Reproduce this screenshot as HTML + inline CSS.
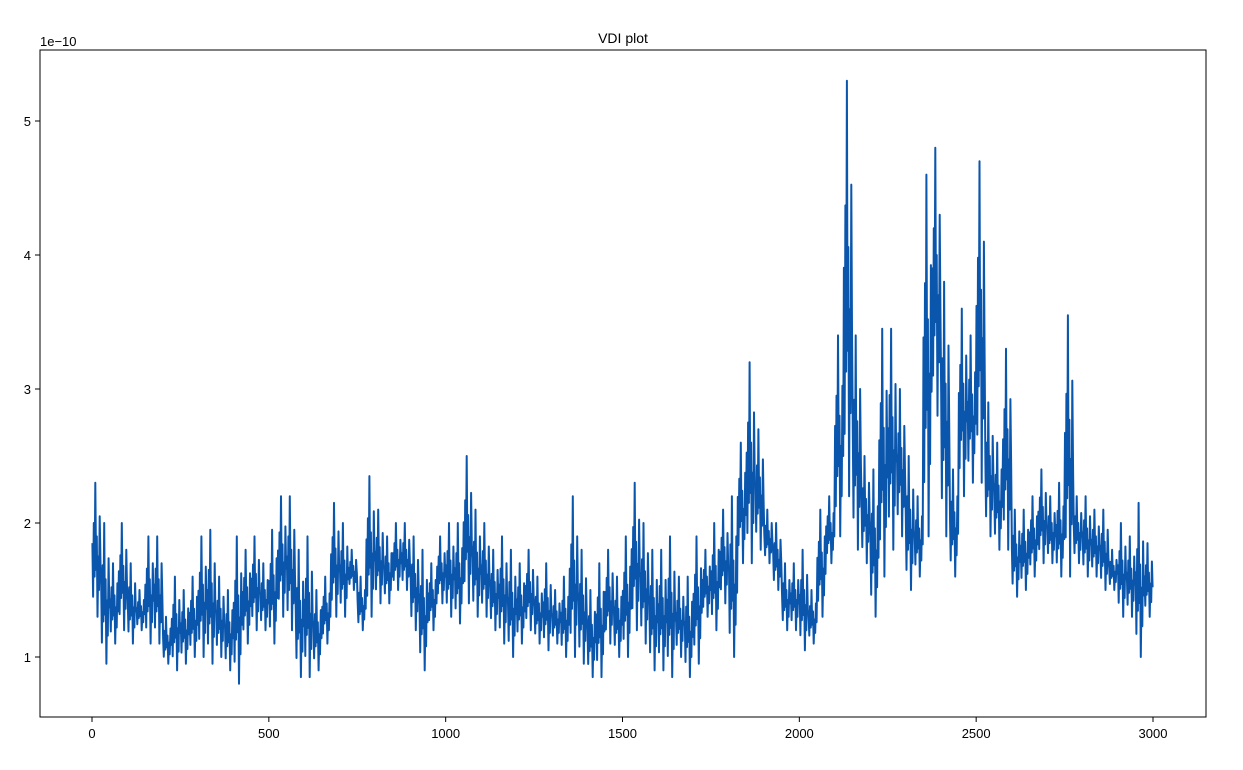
<!DOCTYPE html>
<html><head><meta charset="utf-8"><style>
body{margin:0;background:#fff;}
svg text{font-family:"Liberation Sans","DejaVu Sans",sans-serif;fill:#000;}
</style></head><body>
<svg width="1243" height="765" viewBox="0 0 1243 765" xmlns="http://www.w3.org/2000/svg">
<rect x="0" y="0" width="1243" height="765" fill="#fff"/>
<text x="623" y="43" font-size="14" text-anchor="middle">VDI plot</text>
<text x="40" y="46" font-size="13">1e−10</text>
<g id="plot"></g>
<rect x="40" y="50" width="1166" height="667" fill="none" stroke="#000" stroke-width="1"/>
<g id="xaxis"></g><g id="yaxis"></g>
</svg>
<script>
const xTicks=[0,500,1000,1500,2000,2500,3000];
const yTicks=[1,2,3,4,5];
const binSize=25;
const seriesHi=[2.3,2.0,1.7,2.0, 1.7,1.5,1.9,1.9, 1.3,1.6,1.5,1.6, 1.9,1.95,1.6,1.5, 1.9,1.8,1.9,1.7,
1.95,2.2,2.2,1.8, 1.9,1.5,1.6,2.15, 2.0,1.8,1.6,2.35, 2.1,1.9,2.0,2.0, 1.9,1.8,1.7,1.9,
2.0,2.0,2.5,2.1, 2.0,1.8,1.9,1.8, 1.7,1.8,1.6,1.7, 1.5,1.6,2.2,1.8, 1.5,1.7,1.8,1.6,
1.9,2.3,2.0,1.8, 1.8,1.9,1.6,1.6, 1.9,1.8,2.0,2.1, 2.2,2.6,3.2,2.7, 2.1,2.0,1.7,1.7,
1.8,1.5,2.1,2.2, 3.4,5.3,3.4,2.5, 2.4,3.45,3.45,3.0, 2.5,2.2,4.6,4.8, 3.8,2.4,3.6,3.4,
4.7,2.9,2.6,3.3, 2.1,2.1,2.2,2.4, 2.2,2.3,3.55,2.2, 2.2,2.1,2.1,1.8, 2.0,1.9,2.15,1.85];
const seriesLo=[1.3,0.95,1.1,1.2, 1.1,1.2,1.1,1.1, 0.95,0.9,0.95,1.0, 1.0,0.95,1.0,0.9, 0.8,1.1,1.2,1.2,
1.1,1.3,1.2,0.85, 0.85,0.9,1.1,1.3, 1.3,1.5,1.2,1.3, 1.4,1.4,1.5,1.5, 1.2,0.9,1.2,1.4,
1.3,1.25,1.4,1.3, 1.3,1.2,1.1,1.0, 1.1,1.2,1.1,1.05, 1.1,1.0,1.0,0.95, 0.85,0.85,1.1,1.0,
1.0,1.2,1.1,0.9, 0.9,0.85,1.0,0.85, 0.95,1.3,1.2,1.4, 1.0,1.7,1.7,1.8, 1.7,1.5,1.2,1.2,
1.05,1.1,1.3,1.7, 1.9,2.2,1.8,1.7, 1.3,1.6,1.8,1.9, 1.5,1.6,1.9,2.8, 1.9,1.6,2.2,2.3,
2.3,1.9,1.8,1.8, 1.45,1.5,1.6,1.7, 1.7,1.6,1.6,1.7, 1.6,1.6,1.5,1.5, 1.3,1.3,1.0,1.3];
const NS='http://www.w3.org/2000/svg';
function xs(v){return 92+v*(1153-92)/3000;}
function ys(v){return 657-(v-1)*134;}
const plot=document.getElementById('plot');
const pattern=[0.55,0.15,0.7,0.3,1.0,0.35,0.6,0.0,0.45,0.2,0.75,0.4];
let pts=[];
for(let k=0;k<seriesHi.length;k++){
  const x0=k*binSize, h=seriesHi[k], l=seriesLo[k];
  for(let j=0;j<pattern.length;j++){
    const v=l+(h-l)*pattern[j];
    pts.push(xs(x0+binSize*(j+0.5)/pattern.length).toFixed(1)+','+ys(v).toFixed(1));
  }
}
const pl=document.createElementNS(NS,'polyline');


pl.setAttribute('points',pts.join(' '));
pl.setAttribute('fill','none');pl.setAttribute('stroke','#0b56ad');
pl.setAttribute('stroke-width','2');pl.setAttribute('stroke-linejoin','round');
plot.appendChild(pl);
const xa=document.getElementById('xaxis');
xTicks.forEach(t=>{
  const l=document.createElementNS(NS,'line');
  
  
  l.setAttribute('x1',xs(t));l.setAttribute('x2',xs(t));l.setAttribute('y1',717);l.setAttribute('y2',722);l.setAttribute('stroke','#000');
  xa.appendChild(l);
  const tx=document.createElementNS(NS,'text');
  
  
  tx.setAttribute('x',xs(t));tx.setAttribute('y',738);tx.setAttribute('font-size','13');tx.setAttribute('text-anchor','middle');
  tx.textContent=t;xa.appendChild(tx);
});
const ya=document.getElementById('yaxis');
yTicks.forEach(t=>{
  const l=document.createElementNS(NS,'line');
  
  
  l.setAttribute('x1',35);l.setAttribute('x2',40);l.setAttribute('y1',ys(t));l.setAttribute('y2',ys(t));l.setAttribute('stroke','#000');
  ya.appendChild(l);
  const tx=document.createElementNS(NS,'text');
  
  
  tx.setAttribute('x',31);tx.setAttribute('y',ys(t)+5);tx.setAttribute('font-size','13');tx.setAttribute('text-anchor','end');
  tx.textContent=t;ya.appendChild(tx);
});
</script>
</body></html>
